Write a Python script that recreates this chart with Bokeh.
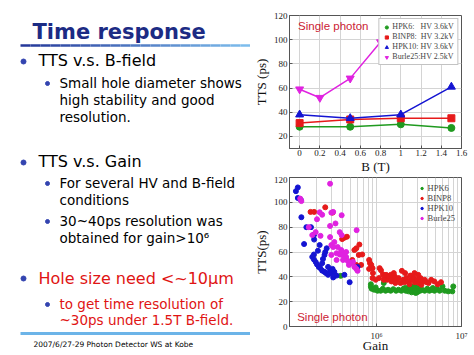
import numpy as np
from bokeh.plotting import figure
from bokeh.layouts import row, column
from bokeh.models import (Range1d, Legend, LegendItem, Label, FixedTicker,
                          SingleIntervalTicker, CustomJSTickFormatter)
from bokeh.core.properties import value
from bokeh.embed import file_html
from bokeh.resources import INLINE

# ---------------- TTS vs B-field (single photon) ----------------
b_hpk6 = [0.0, 0.5, 1.0, 1.5]
tts_b_hpk6 = [28, 28, 30, 27]
b_binp8 = [0.0, 0.5, 1.0, 1.5]
tts_b_binp8 = [31, 34, 35, 35]
b_hpk10 = [0.0, 0.5, 1.0, 1.5]
tts_b_hpk10 = [38, 35, 38, 61]
b_burle25 = [0.0, 0.2, 0.5, 0.8]
tts_b_burle25 = [59, 52, 68, 98]
b_legend = ["HPK6:   HV 3.6kV", "BINP8:  HV 3.2kV", "HPK10: HV 3.6kV", "Burle25:HV 2.5kV"]

# ---------------- TTS vs Gain (single photon) ----------------
gain_hpk10 = [1.13e5, 1.19e5, 1.19e5, 1.29e5, 1.31e5, 1.41e5, 1.5e5, 1.7e5, 1.85e5, 1.85e5,
              2.15e5, 2.05e5, 1.84e5, 1.76e5, 1.84e5, 1.93e5, 2.0e5, 2.1e5, 2.3e5, 2.45e5,
              2.5e5, 2.6e5, 2.35e5, 2.19e5, 2.3e5, 2.45e5, 2.55e5, 2.7e5, 2.85e5, 2.95e5,
              3.1e5, 3.2e5, 3.4e5, 3.05e5, 2.7e5, 4.2e5, 4.84e5, 6.0e5]
tts_hpk10 = [109, 112, 103.5, 102, 88, 66.4, 80, 80, 74, 70,
             65.6, 61, 58, 56, 54, 52, 50, 48, 51, 57.6,
             60, 63, 54.4, 47, 45, 44, 43, 41.6, 45, 43,
             39.5, 44, 41, 46.4, 48, 41.6, 35.7, 48]

gain_burle25 = [1.27e5, 1.31e5, 1.6e5, 1.76e5, 1.93e5, 2.0e5, 2.15e5, 2.3e5, 2.2e5, 2.85e5,
                2.95e5, 3.1e5, 2.85e5, 2.85e5, 2.95e5, 3.1e5, 3.3e5, 3.9e5, 3.7e5, 3.9e5,
                3.2e5, 3.5e5, 3.4e5, 3.7e5, 3.95e5, 4.2e5, 4.4e5, 4.05e5, 4.6e5, 4.9e5,
                5.3e5, 5.5e5, 5.8e5, 6.0e5, 5.85e5, 4.4e5, 4.75e5, 3.85e5, 3.4e5, 2.95e5]
tts_burle25 = [103, 101, 80, 73.6, 76, 86.4, 92, 90, 73, 115,
               91.7, 92.3, 81, 72, 65.6, 64, 83, 89.6, 76, 73.6,
               68, 64, 59, 58, 57.6, 59, 56, 53.6, 52.8, 51,
               52, 48, 46.4, 44.8, 77.6, 60, 49.6, 61.6, 53.6, 57.6]

gain_binp8 = [1.68e5, 1.85e5, 2.5e5, 3.05e5, 4.2e5, 4.5e5, 3.95e5, 5.2e5, 5.5e5, 5.8e5,
              6.3e5, 6.2e5, 6.8e5, 6.6e5, 5.78e5,
              8.2e5, 8.4e5, 8.7e5, 9.0e5, 8.2e5, 9.1e5, 9.0e5, 9.8e5, 1.09e6, 1.13e6,
              1.19e6, 1.26e6, 1.34e6, 1.3e6, 1.4e6, 1.47e6, 1.55e6, 1.64e6, 1.73e6, 1.82e6,
              1.92e6, 1.99e6, 2.06e6, 2.14e6, 2.25e6, 2.37e6, 2.5e6, 2.59e6, 2.73e6, 2.83e6,
              2.98e6, 3.15e6, 3.3e6, 3.5e6, 3.69e6, 3.89e6, 4.1e6, 4.4e6, 4.8e6, 5.25e6,
              5.74e6, 1.07e6, 1.5e6, 1.67e6, 2.45e6, 2.17e6, 3.1e6, 1.22e6, 1.6e6, 2.8e6, 3.38e6]
tts_binp8 = [92.3, 92.3, 96, 91.7, 71.5, 72.3, 70.4, 53.6, 61.6, 63,
             66, 57.6, 58, 49.6, 49.6,
             53.6, 51, 49.6, 47, 46.4, 43, 39, 37.6, 47, 45.3,
             42, 39.5, 37.6, 41.6, 40.3, 41.6, 39, 40.3, 37.6, 39,
             35, 44.8, 37.6, 35.7, 39, 36.3, 41, 37.6, 39.5, 35.7,
             37.6, 35, 39, 36.3, 37.6, 35.7, 35, 37.6, 36.3, 34,
             35.7, 39, 36.3, 35, 34, 43, 41.6, 37.6, 43, 43, 33.6]

gain_hpk6 = [3.8e5, 8.6e5, 8.6e5, 8.8e5, 9.4e5, 1.03e6, 1.22e6, 1.12e6, 1.19e6, 1.28e6,
             1.37e6, 1.47e6, 1.58e6, 1.7e6, 1.82e6, 1.96e6, 2.08e6, 2.21e6, 2.33e6, 2.46e6,
             2.55e6, 2.64e6, 2.73e6, 2.83e6, 2.93e6, 3.04e6, 3.15e6, 3.26e6, 3.44e6, 3.69e6,
             3.96e6, 4.2e6, 4.48e6, 4.81e6, 5.16e6, 5.53e6, 5.98e6, 6.36e6, 6.97e6, 7.8e6,
             8.0e6, 2.37e6, 2.59e6, 2.7e6, 2.9e6, 3.09e6, 2.48e6, 2.83e6, 9.8e5, 2.17e6, 4.6e6]
tts_hpk6 = [40.8, 34, 32, 30.4, 29.6, 28.8, 35, 28.8, 30.4, 28.8,
            29.6, 28.8, 30.1, 28.8, 29.6, 28.8, 30.4, 28.8, 31, 29.6,
            32.3, 30.4, 28.3, 31.5, 29.3, 27.7, 30.4, 28.8, 29.6, 28.8,
            30.4, 28.8, 29.6, 28.8, 30.4, 28.8, 32.3, 28.8, 28.3, 28.3,
            32.3, 28.3, 27.5, 32.3, 27, 32.3, 31, 28.8, 31.5, 31, 31]
gain_legend = ["HPK6", "BINP8", "HPK10", "Burle25"]

gain_ticks = [1e6, 1e7]
gain_tick_labels = ["10\u2076", "10\u2077"]

GREEN, RED, BLUE, MAGENTA = "#1f9a1f", "#e61a1a", "#1414d2", "#e022e0"
SERIF = "Liberation Serif"

# ---------------- left: slide text ----------------
W_LEFT = 250
t = figure(width=W_LEFT, height=355, x_range=Range1d(0, W_LEFT), y_range=Range1d(355, 0),
           output_backend="svg", toolbar_location=None, min_border=0,
           x_axis_location=None, y_axis_location=None)
t.grid.visible = False
t.outline_line_color = None


def txt(xs, ys, strs, size, color, style="normal", font="DejaVu Sans"):
    t.text(x=xs, y=ys, text=strs, text_font=value(font), text_font_size=size,
           text_color=color, text_font_style=style, text_baseline="middle",
           text_align="left")


txt([32], [31], ["Time response"], "21px", "#1c2b84", "bold")
# gradient rule under the title
gx = np.linspace(20, W_LEFT, 24)
c0 = np.array([0x25, 0x38, 0x9a]); c1 = np.array([0x7c, 0xbc, 0xec])
cols = ["#%02x%02x%02x" % tuple((c0 + (c1 - c0) * k / 22).astype(int)) for k in range(23)]
t.segment(x0=gx[:-1], y0=[45] * 23, x1=gx[1:], y1=[45] * 23, line_color=cols, line_width=2.5)
t.segment(x0=[20], y0=[333], x1=[W_LEFT], y1=[333], line_color="#6cb4e8", line_width=3)

txt([38, 38], [59.5, 160.5], ["TTS v.s. B-field", "TTS v.s. Gain"], "16px", "black")
txt([59] * 7, [82.5, 99.5, 116.5, 182.5, 199.5, 220.5, 237.5],
    ["Small hole diameter shows", "high stability and good", "resolution.",
     "For several HV and B-field", "conditions", "30~40ps resolution was",
     "obtained for gain>10\u2076"], "13.5px", "black")
txt([38], [277.5], ["Hole size need <~10\u03bcm"], "16px", "#e01414")
txt([59, 59], [303, 319.5], ["to get time resolution of", "~30ps under 1.5T B-field."],
    "13.5px", "#e01414")
txt([33], [343.5], ["2007/6/27-29 Photon Detector WS at Kobe"], "7.5px", "black")

t.scatter(x=[23, 23, 23], y=[61, 162, 278], size=5, color="#3344b0")
t.scatter(x=[47, 47, 47, 47], y=[83, 183, 221, 304], size=4, color="#3344b0")


def style_axes(p):
    for ax in (p.xaxis[0], p.yaxis[0]):
        ax.major_label_text_font = SERIF
        ax.major_label_text_font_size = "9px"
        ax.major_label_text_color = "#222222"
        ax.axis_label_text_font = SERIF
        ax.axis_label_text_font_style = "normal"
        ax.axis_label_text_font_size = "13px"
        ax.axis_label_text_color = "#111111"
        ax.major_tick_in = 3
        ax.major_tick_out = 0
        ax.minor_tick_line_color = None
        ax.axis_line_color = "#555555"
        ax.major_tick_line_color = "#555555"
        ax.major_label_standoff = 2
        ax.axis_label_standoff = 2
    p.outline_line_color = "#555555"
    p.grid.grid_line_color = "#d4d4d4"


# ---------------- top right: TTS vs B ----------------
p1 = figure(width=474 - W_LEFT, height=176, x_range=Range1d(-0.1, 1.6), y_range=Range1d(10, 120),
            output_backend="svg", toolbar_location=None,
            min_border_left=34, min_border_right=12, min_border_top=15, min_border_bottom=27)
p1.xaxis.ticker = SingleIntervalTicker(interval=0.2, num_minor_ticks=0)
p1.yaxis.ticker = SingleIntervalTicker(interval=20, num_minor_ticks=0)
p1.xaxis.formatter = CustomJSTickFormatter(code="return String(Math.round(tick*10)/10)")
p1.xaxis.axis_label = "B (T)"
p1.yaxis.axis_label = "TTS (ps)"
style_axes(p1)
p1.xaxis.major_label_standoff = 1
p1.xaxis.axis_label_standoff = 0

items = []
for xs, ys, col, mk, sz, lab in [
        (b_hpk6, tts_b_hpk6, GREEN, "circle", 7, b_legend[0]),
        (b_binp8, tts_b_binp8, RED, "square", 7, b_legend[1]),
        (b_hpk10, tts_b_hpk10, BLUE, "triangle", 8, b_legend[2]),
        (b_burle25, tts_b_burle25, MAGENTA, "inverted_triangle", 8, b_legend[3])]:
    p1.line(xs, ys, line_color=col, line_width=1.5)
    r = p1.scatter(xs, ys, marker=mk, size=sz, color=col)
    items.append(LegendItem(label=lab, renderers=[r]))
leg1 = Legend(items=items, location="top_right", label_text_font=SERIF,
              label_text_font_size="8px", label_height=8, glyph_height=8, glyph_width=8,
              spacing=1, padding=3, margin=3, label_standoff=2,
              border_line_color="#888888", background_fill_alpha=1)
p1.add_layout(leg1)
p1.add_layout(Label(x=-0.015, y=111, text="Single photon", text_font="Liberation Sans",
                    text_font_size="11.5px", text_color="#cc2233", text_baseline="middle"))

# ---------------- bottom right: TTS vs Gain ----------------
p2 = figure(width=474 - W_LEFT, height=179, x_axis_type="log",
            x_range=Range1d(9.5e4, 1e7), y_range=Range1d(0, 120),
            output_backend="svg", toolbar_location=None,
            min_border_left=35, min_border_right=13, min_border_top=1, min_border_bottom=28)
p2.xaxis.ticker = FixedTicker(ticks=gain_ticks,
                              minor_ticks=[k * 1e5 for k in range(2, 10)] + [k * 1e6 for k in range(2, 10)])
p2.xaxis.major_label_overrides = {tk: lb for tk, lb in zip(gain_ticks, gain_tick_labels)}
p2.yaxis.ticker = SingleIntervalTicker(interval=20, num_minor_ticks=0)
p2.xaxis.axis_label = "Gain"
p2.yaxis.axis_label = "TTS(ps)"
style_axes(p2)
p2.xaxis.major_label_standoff = 0
p2.xaxis.axis_label_standoff = -6
p2.xgrid.minor_grid_line_color = "#d4d4d4"

items2 = []
for xs, ys, col, lab in [(gain_hpk6, tts_hpk6, GREEN, gain_legend[0]),
                         (gain_binp8, tts_binp8, RED, gain_legend[1]),
                         (gain_hpk10, tts_hpk10, BLUE, gain_legend[2]),
                         (gain_burle25, tts_burle25, MAGENTA, gain_legend[3])]:
    r = p2.scatter(xs, ys, marker="circle", size=5, color=col)
    items2.append(LegendItem(label=lab, renderers=[r]))
leg2 = Legend(items=items2, location="top_right", label_text_font=SERIF,
              label_text_font_size="8.5px", label_height=8, glyph_height=6, glyph_width=6,
              spacing=0, padding=2, margin=4, label_standoff=3,
              border_line_alpha=0, background_fill_alpha=0)
p2.add_layout(leg2)
p2.add_layout(Label(x=1.17e5, y=8, text="Single photon", text_font="Liberation Sans",
                    text_font_size="11.5px", text_color="#cc2233", text_baseline="middle"))

layout = row(t, column(p1, p2, spacing=0), spacing=0)
open("out.html", "w").write(file_html(layout, INLINE))
